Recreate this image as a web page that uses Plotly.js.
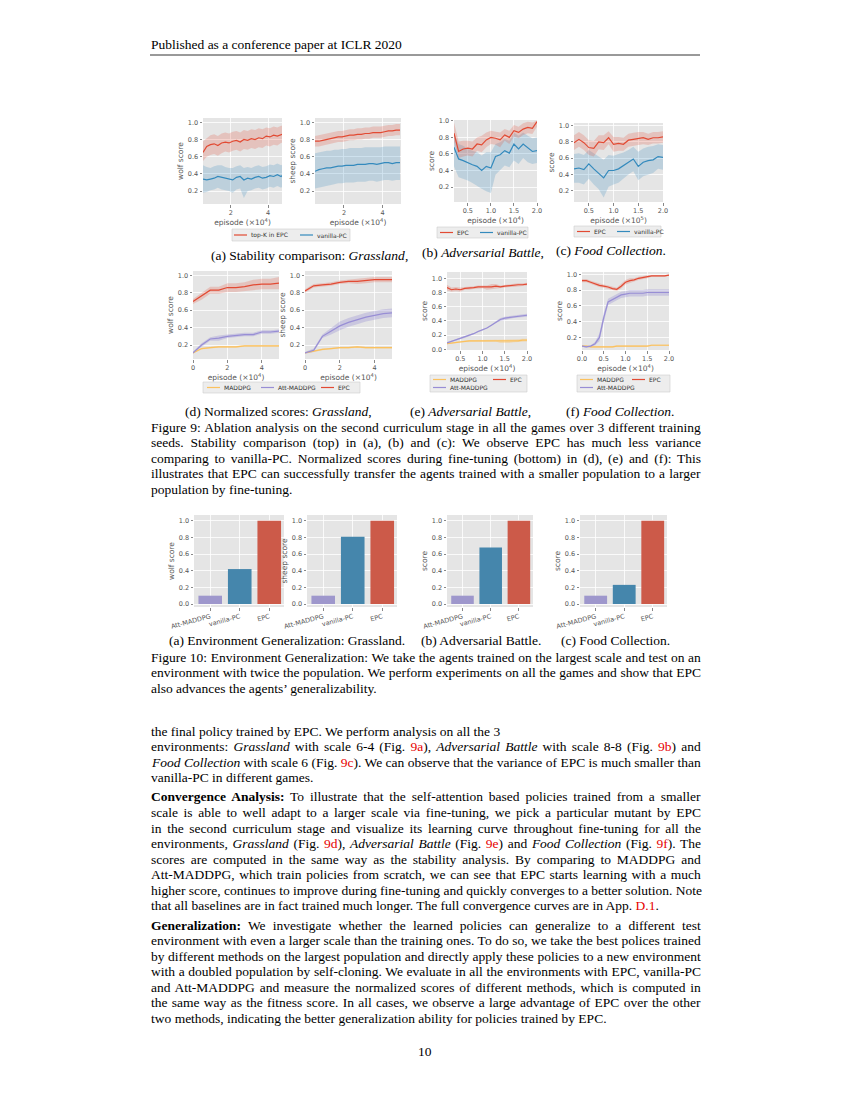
<!DOCTYPE html>
<html><head><meta charset="utf-8">
<script src="https://cdn.plot.ly/plotly-3.0.1.min.js"></script>
<style>html,body{margin:0;padding:0;background:#fff}</style>
</head><body><div id="chart" style="width:850px;height:1100px"></div>
<script>
// ---------------- DATA ----------------
// (a) Stability comparison: Grassland  (episode x10^4)
const aX = [0.5,0.7,0.9,1.1,1.3,1.5,1.7,1.9,2.1,2.3,2.5,2.7,2.9,3.1,3.3,3.5,3.7,3.9,4.1,4.3,4.5,4.7,4.9];
const wolfEPC      = [0.65,0.72,0.74,0.75,0.73,0.76,0.77,0.76,0.78,0.79,0.77,0.80,0.79,0.81,0.80,0.82,0.81,0.84,0.83,0.85,0.84,0.86,0.87];
const wolfEPCHi    = [0.78,0.82,0.85,0.86,0.84,0.87,0.88,0.87,0.89,0.90,0.88,0.91,0.90,0.92,0.91,0.93,0.92,0.94,0.93,0.95,0.94,0.96,0.96];
const wolfEPCLo    = [0.55,0.60,0.62,0.63,0.61,0.64,0.66,0.65,0.67,0.68,0.66,0.69,0.68,0.70,0.69,0.71,0.70,0.73,0.72,0.74,0.73,0.76,0.77];
const wolfVan      = [0.34,0.33,0.34,0.35,0.37,0.36,0.35,0.34,0.33,0.36,0.37,0.33,0.35,0.34,0.36,0.37,0.35,0.36,0.38,0.37,0.39,0.37,0.40];
const wolfVanHi    = [0.50,0.48,0.47,0.49,0.50,0.50,0.48,0.47,0.47,0.49,0.50,0.47,0.48,0.47,0.49,0.50,0.48,0.49,0.51,0.50,0.52,0.50,0.53];
const wolfVanLo    = [0.18,0.19,0.21,0.22,0.24,0.22,0.21,0.20,0.18,0.22,0.23,0.12,0.20,0.21,0.23,0.24,0.22,0.23,0.25,0.24,0.26,0.24,0.27];
const sheepEPC     = [0.78,0.78,0.79,0.80,0.81,0.82,0.83,0.83,0.84,0.85,0.85,0.86,0.86,0.87,0.87,0.88,0.88,0.88,0.89,0.90,0.90,0.91,0.91];
const sheepEPCHi   = [0.84,0.85,0.86,0.87,0.88,0.89,0.90,0.90,0.91,0.92,0.92,0.93,0.93,0.94,0.94,0.95,0.95,0.95,0.96,0.97,0.97,0.98,0.98];
const sheepEPCLo   = [0.72,0.72,0.73,0.74,0.75,0.76,0.77,0.77,0.78,0.79,0.79,0.80,0.80,0.81,0.81,0.82,0.82,0.82,0.83,0.84,0.84,0.85,0.85];
const sheepVan     = [0.43,0.45,0.46,0.47,0.47,0.48,0.49,0.49,0.50,0.50,0.50,0.51,0.51,0.51,0.52,0.52,0.51,0.52,0.53,0.53,0.52,0.53,0.53];
const sheepVanHi   = [0.64,0.65,0.66,0.67,0.67,0.68,0.68,0.69,0.69,0.70,0.70,0.70,0.70,0.71,0.71,0.71,0.71,0.71,0.72,0.72,0.72,0.72,0.72];
const sheepVanLo   = [0.23,0.24,0.25,0.26,0.27,0.28,0.29,0.29,0.30,0.30,0.30,0.31,0.31,0.31,0.32,0.32,0.31,0.32,0.33,0.33,0.32,0.33,0.33];

// (b) Adversarial Battle stability (episode x10^4)
const bX = [0.2,0.3,0.4,0.5,0.6,0.7,0.8,0.9,1.0,1.1,1.2,1.3,1.4,1.5,1.6,1.7,1.8,1.9,2.0];
const advEPC   = [0.85,0.63,0.66,0.67,0.66,0.72,0.71,0.77,0.80,0.79,0.77,0.83,0.80,0.88,0.86,0.90,0.92,0.91,0.99];
const advEPCHi = [0.98,0.75,0.76,0.76,0.75,0.80,0.82,0.86,0.88,0.87,0.86,0.90,0.88,0.95,0.93,0.97,0.99,0.98,1.00];
const advEPCLo = [0.75,0.55,0.57,0.58,0.57,0.64,0.62,0.68,0.72,0.71,0.68,0.76,0.72,0.81,0.79,0.83,0.85,0.84,0.93];
const advVan   = [0.68,0.54,0.52,0.49,0.47,0.45,0.40,0.45,0.43,0.57,0.59,0.64,0.61,0.72,0.66,0.72,0.67,0.63,0.64];
const advVanHi = [0.85,0.72,0.70,0.66,0.64,0.62,0.58,0.62,0.62,0.72,0.74,0.78,0.76,0.86,0.82,0.86,0.82,0.79,0.80];
const advVanLo = [0.45,0.32,0.30,0.28,0.25,0.22,0.18,0.15,0.13,0.35,0.40,0.46,0.44,0.52,0.48,0.55,0.50,0.48,0.49];

// (c) Food Collection stability
const cX = [0.2,0.3,0.4,0.5,0.6,0.7,0.8,0.9,1.0,1.1,1.2,1.3,1.4,1.5,1.6,1.7,1.8,1.9,2.0];
const foodEPC   = [0.79,0.83,0.79,0.73,0.72,0.80,0.79,0.85,0.77,0.78,0.77,0.82,0.83,0.84,0.85,0.83,0.85,0.85,0.86];
const foodEPCHi = [0.88,0.92,0.88,0.82,0.81,0.88,0.88,0.93,0.86,0.86,0.85,0.90,0.91,0.92,0.92,0.90,0.92,0.92,0.93];
const foodEPCLo = [0.70,0.74,0.70,0.64,0.62,0.71,0.70,0.77,0.68,0.69,0.69,0.74,0.75,0.76,0.77,0.76,0.78,0.78,0.79];
const foodVan   = [0.47,0.48,0.46,0.53,0.47,0.42,0.36,0.45,0.45,0.47,0.51,0.55,0.59,0.50,0.55,0.57,0.58,0.62,0.61];
const foodVanHi = [0.65,0.66,0.64,0.70,0.66,0.62,0.58,0.64,0.63,0.65,0.67,0.70,0.74,0.68,0.72,0.74,0.75,0.77,0.76];
const foodVanLo = [0.30,0.30,0.28,0.35,0.28,0.22,0.12,0.25,0.28,0.30,0.35,0.40,0.44,0.33,0.38,0.40,0.42,0.47,0.46];

// (d) Normalized scores: Grassland (episode x10^4)
const dX = [0,0.5,1.0,1.5,2.0,2.5,3.0,3.5,4.0,4.5,5.0];
const gWolfMAD    = [0.11,0.16,0.17,0.18,0.18,0.18,0.19,0.19,0.19,0.19,0.19];
const gWolfMADSd  = [0.005,0.01,0.01,0.01,0.01,0.01,0.01,0.01,0.01,0.01,0.01];
const gWolfAtt    = [0.11,0.20,0.27,0.28,0.30,0.31,0.32,0.32,0.35,0.35,0.36];
const gWolfAttSd  = [0.01,0.02,0.02,0.03,0.02,0.02,0.02,0.02,0.02,0.02,0.02];
const gWolfEPC    = [0.70,0.76,0.83,0.83,0.86,0.86,0.87,0.89,0.90,0.90,0.91];
const gWolfEPCSd  = [0.03,0.04,0.04,0.04,0.05,0.05,0.05,0.06,0.06,0.06,0.07];
const gSheepMAD   = [0.11,0.13,0.15,0.16,0.17,0.17,0.18,0.17,0.17,0.17,0.17];
const gSheepMADSd = [0.005,0.01,0.01,0.01,0.01,0.01,0.01,0.01,0.01,0.01,0.01];
const gSheepAtt   = [0.11,0.14,0.30,0.36,0.42,0.46,0.49,0.52,0.54,0.56,0.57];
const gSheepAttSd = [0.01,0.02,0.02,0.04,0.05,0.05,0.05,0.05,0.05,0.05,0.05];
const gSheepEPC   = [0.82,0.88,0.89,0.90,0.92,0.93,0.93,0.94,0.95,0.95,0.95];
const gSheepEPCSd = [0.02,0.02,0.02,0.02,0.02,0.02,0.03,0.03,0.03,0.03,0.03];

// (e) Normalized scores: Adversarial Battle
const eX = [0.2,0.3,0.4,0.5,0.6,0.7,0.8,0.9,1.0,1.1,1.2,1.3,1.4,1.5,1.6,1.7,1.8,1.9,2.0];
const aMAD    = [0.08,0.09,0.10,0.11,0.12,0.12,0.12,0.12,0.12,0.12,0.12,0.12,0.11,0.11,0.11,0.12,0.12,0.13,0.13];
const aMADSd  = [0.01,0.01,0.01,0.01,0.01,0.01,0.01,0.01,0.01,0.01,0.01,0.01,0.02,0.02,0.02,0.02,0.02,0.02,0.02];
const aAtt    = [0.09,0.11,0.13,0.15,0.17,0.20,0.22,0.25,0.27,0.30,0.34,0.38,0.42,0.44,0.45,0.46,0.47,0.48,0.48];
const aAttSd  = [0.01,0.01,0.01,0.01,0.01,0.01,0.01,0.01,0.01,0.01,0.01,0.01,0.02,0.02,0.02,0.02,0.02,0.02,0.02];
const aEPC    = [0.87,0.84,0.85,0.84,0.86,0.86,0.87,0.88,0.88,0.87,0.88,0.89,0.88,0.89,0.90,0.90,0.91,0.91,0.92];
const aEPCSd  = [0.04,0.03,0.03,0.03,0.02,0.02,0.02,0.02,0.02,0.03,0.04,0.03,0.02,0.02,0.02,0.02,0.02,0.02,0.02];

// (f) Normalized scores: Food Collection
const fX = [0,0.1,0.2,0.3,0.4,0.5,0.6,0.7,0.8,0.9,1.0,1.1,1.2,1.3,1.4,1.5,1.6,1.7,1.8,1.9,2.0];
const fMAD    = [0.09,0.09,0.08,0.08,0.08,0.08,0.08,0.08,0.09,0.09,0.09,0.09,0.09,0.09,0.09,0.09,0.10,0.10,0.10,0.10,0.10];
const fMADSd  = [0.01,0.01,0.01,0.01,0.01,0.01,0.01,0.01,0.01,0.01,0.01,0.01,0.01,0.01,0.01,0.01,0.01,0.01,0.01,0.01,0.01];
const fAtt    = [0.09,0.08,0.09,0.12,0.20,0.45,0.65,0.68,0.71,0.74,0.75,0.76,0.76,0.76,0.76,0.77,0.77,0.77,0.77,0.77,0.77];
const fAttSd  = [0.01,0.01,0.01,0.02,0.05,0.06,0.04,0.04,0.04,0.04,0.04,0.04,0.04,0.04,0.04,0.04,0.04,0.04,0.04,0.04,0.04];
const fEPC    = [0.92,0.92,0.90,0.88,0.86,0.85,0.84,0.82,0.81,0.85,0.90,0.92,0.93,0.95,0.96,0.97,0.98,0.98,0.98,0.98,0.99];
const fEPCSd  = [0.02,0.02,0.02,0.02,0.02,0.02,0.02,0.02,0.02,0.03,0.03,0.03,0.02,0.02,0.02,0.02,0.01,0.01,0.01,0.01,0.01];

// Figure 10 bars
const barCats = ['Att-MADDPG','vanilla-PC','EPC'];
const barWolf  = [0.10,0.42,1.00];
const barSheep = [0.10,0.81,1.00];
const barAdv   = [0.10,0.68,1.00];
const barFood  = [0.10,0.23,1.00];

// ---------------- STYLE / LAYOUT ----------------
const W=850,H=1100;
const fx=p=>p/W, fy=p=>1-p/H;
const RED='#E24A33', BLUE='#348ABD', PURPLE='#988ED5', ORANGE='#FBC15E';
const BAR_COLORS=['#9E97CC','#4586AC','#CC5A49'];
const GREY='#555555';
const PF='DejaVu Sans', SERIF='Liberation Serif';
const layout={width:W,height:H,margin:{l:0,r:0,t:0,b:0},paper_bgcolor:'#fff',plot_bgcolor:'#E5E5E5',
  showlegend:false,shapes:[],annotations:[],font:{family:PF,color:GREY}};
const data=[];
let n=0;
function axes(xb,yb,xr,yr,xo,yo){
  n++; const s=n===1?'':String(n);
  const base={showgrid:true,gridcolor:'#fff',gridwidth:0.8,zeroline:false,showline:false,ticks:'outside',
    ticklen:2.5,tickwidth:0.7,tickcolor:GREY,tickfont:{family:PF,size:6.5,color:GREY},fixedrange:true};
  layout['xaxis'+s]=Object.assign({},base,{domain:[fx(xb[0]),fx(xb[1])],range:xr,anchor:'y'+s},xo);
  layout['yaxis'+s]=Object.assign({},base,{domain:[fy(yb[1]),fy(yb[0])],range:yr,anchor:'x'+s},yo);
  return ['x'+s,'y'+s];
}
function ttl(t,size,st){return {text:t,font:{family:PF,size:size||7.5,color:GREY},standoff:st==null?3:st};}
function bandHL(ax,x,hi,lo,rgba){
  data.push({type:'scatter',mode:'lines',xaxis:ax[0],yaxis:ax[1],x:x.concat(x.slice().reverse()),
    y:hi.concat(lo.slice().reverse()),fill:'toself',fillcolor:rgba,line:{width:0},hoverinfo:'skip'});
}
function bandSd(ax,x,m,sd,rgba){
  bandHL(ax,x,m.map((v,i)=>v+sd[i]),m.map((v,i)=>v-sd[i]),rgba);
}
function line(ax,x,y,color){
  data.push({type:'scatter',mode:'lines',xaxis:ax[0],yaxis:ax[1],x:x,y:y,line:{color:color,width:1.2}});
}
const RB='rgba(226,74,51,0.22)', BB='rgba(52,138,189,0.22)', PB='rgba(152,142,213,0.35)', OB='rgba(251,193,94,0.35)';
const yTick02={tickvals:[0.2,0.4,0.6,0.8,1.0],tickformat:'.1f'};
const yTick00={tickvals:[0,0.2,0.4,0.6,0.8,1.0],tickformat:'.1f'};
const ep4='episode (×10<sup>4</sup>)', ep5='episode (×10<sup>5</sup>)';

// ---- Row 1 ----
let ax=axes([203,282],[118,204],[0.5,4.75],[0.05,1.05],{tickvals:[2,4],title:ttl(ep4)},Object.assign({title:ttl('wolf score')},yTick02));
bandHL(ax,aX,wolfVanHi,wolfVanLo,BB); bandHL(ax,aX,wolfEPCHi,wolfEPCLo,RB);
line(ax,aX,wolfVan,BLUE); line(ax,aX,wolfEPC,RED);
ax=axes([315,401],[118,204],[0.5,4.95],[0.05,1.05],{tickvals:[2,4],title:ttl(ep4)},Object.assign({title:ttl('sheep score')},yTick02));
bandHL(ax,aX,sheepVanHi,sheepVanLo,BB); bandHL(ax,aX,sheepEPCHi,sheepEPCLo,RB);
line(ax,aX,sheepVan,BLUE); line(ax,aX,sheepEPC,RED);
ax=axes([454,537],[120,202],[0.2,2.0],[0.02,1.01],{tickvals:[0.5,1,1.5,2],tickformat:'.1f',title:ttl(ep4)},Object.assign({title:ttl('score')},yTick02));
bandHL(ax,bX,advVanHi,advVanLo,BB); bandHL(ax,bX,advEPCHi,advEPCLo,RB);
line(ax,bX,advVan,BLUE); line(ax,bX,advEPC,RED);
ax=axes([574,663],[123,202],[0.2,2.0],[0.065,1.03],{tickvals:[0.5,1,1.5,2],tickformat:'.1f',title:ttl(ep5)},Object.assign({title:ttl('score')},yTick02));
bandHL(ax,cX,foodVanHi,foodVanLo,BB); bandHL(ax,cX,foodEPCHi,foodEPCLo,RB);
line(ax,cX,foodVan,BLUE); line(ax,cX,foodEPC,RED);

// ---- Row 2 ----
function three(ax,x,m1,s1,m2,s2,m3,s3){
  bandSd(ax,x,m1,s1,OB); bandSd(ax,x,m2,s2,PB); bandSd(ax,x,m3,s3,RB);
  line(ax,x,m1,ORANGE); line(ax,x,m2,PURPLE); line(ax,x,m3,RED);
}
ax=axes([193,279],[271,359],[0,5],[0.04,1.05],{tickvals:[0,2,4],title:ttl(ep4)},Object.assign({title:ttl('wolf score')},yTick02));
three(ax,dX,gWolfMAD,gWolfMADSd,gWolfAtt,gWolfAttSd,gWolfEPC,gWolfEPCSd);
ax=axes([305,392],[271,359],[0,5],[0.04,1.05],{tickvals:[0,2,4],title:ttl(ep4)},Object.assign({title:ttl('sheep score')},yTick02));
three(ax,dX,gSheepMAD,gSheepMADSd,gSheepAtt,gSheepAttSd,gSheepEPC,gSheepEPCSd);
ax=axes([447,527],[272,350],[0.2,2.0],[-0.01,1.09],{tickvals:[0.5,1,1.5,2],tickformat:'.1f',title:ttl(ep4)},Object.assign({title:ttl('score')},yTick00));
three(ax,eX,aMAD,aMADSd,aAtt,aAttSd,aEPC,aEPCSd);
ax=axes([582,669],[272,350],[0,2.0],[0.04,1.03],{tickvals:[0,0.5,1,1.5,2],tickformat:'.1f',title:ttl(ep4)},Object.assign({title:ttl('score')},yTick02));
three(ax,fX,fMAD,fMADSd,fAtt,fAttSd,fEPC,fEPCSd);

// ---- Row 3: bars ----
function bars(xb,vals,ytitle){
  const a=axes(xb,[515,607],[-0.55,2.5],[-0.036,1.07],{type:'category',tickangle:-15,tickfont:{family:PF,size:6.5,color:GREY}},
    Object.assign({title:ttl(ytitle)},yTick00));
  data.push({type:'bar',xaxis:a[0],yaxis:a[1],x:barCats,y:vals,width:0.8,marker:{color:BAR_COLORS,line:{width:0}}});
}
bars([194,284],barWolf,'wolf score');
bars([307,397],barSheep,'sheep score');
bars([447,533],barAdv,'score');
bars([580,667],barFood,'score');

// ---- Manual legends ----
function legend(box,items){
  layout.shapes.push({type:'rect',xref:'paper',yref:'paper',x0:fx(box[0]),x1:fx(box[1]),y0:fy(box[3]),y1:fy(box[2]),
    fillcolor:'#EDEDED',line:{color:'#CCCCCC',width:0.6}});
  items.forEach(it=>{
    layout.shapes.push({type:'line',xref:'paper',yref:'paper',x0:fx(it[0]),x1:fx(it[0]+13),y0:fy(it[1]),y1:fy(it[1]),line:{color:it[2],width:1.2}});
    layout.annotations.push({xref:'paper',yref:'paper',x:fx(it[0]+15),y:fy(it[1]),xanchor:'left',yanchor:'middle',showarrow:false,
      text:it[3],font:{family:PF,size:6,color:'#333'}});
  });
}
legend([232,350,229,241],[[234,235,RED,'top-K in EPC'],[300,235,BLUE,'vanilla-PC']]);
legend([437,528,227,238],[[440,232.5,RED,'EPC'],[480,232.5,BLUE,'vanilla-PC']]);
legend([574,661,226,237],[[577,231.5,RED,'EPC'],[617,231.5,BLUE,'vanilla-PC']]);
legend([203,360,382,393],[[207,387.5,ORANGE,'MADDPG'],[261,387.5,PURPLE,'Att-MADDPG'],[321,387.5,RED,'EPC']]);
legend([430,527,375,392],[[433,379.5,ORANGE,'MADDPG'],[433,387.5,PURPLE,'Att-MADDPG'],[493,379.5,RED,'EPC']]);
legend([577,670,375,392],[[580,379.5,ORANGE,'MADDPG'],[580,387.5,PURPLE,'Att-MADDPG'],[632,379.5,RED,'EPC']]);

// ---- Text ----
const justify=[];
function txt(x,y,t,anchor,size,just){
  layout.annotations.push({xref:'paper',yref:'paper',x:fx(x),y:fy(y),xanchor:anchor||'left',yanchor:'middle',align:'left',
    showarrow:false,text:t,font:{family:SERIF,size:size||13.5,color:'#000'},borderpad:0});
  if(just) justify.push(layout.annotations.length-1);
}
const R=s=>'<span style="color:#e60000">'+s+'</span>';
layout.shapes.push({type:'line',xref:'paper',yref:'paper',x0:fx(150),x1:fx(700),y0:fy(55),y1:fy(55),line:{color:'#000',width:0.8}});
txt(150,45,'Published as a conference paper at ICLR 2020');
txt(309,256,'(a) Stability comparison: <i>Grassland</i>,','center');
txt(483,253,'(b) <i>Adversarial Battle</i>,','center');
txt(611,251,'(c) <i>Food Collection</i>.','center');
txt(278,411,'(d) Normalized scores: <i>Grassland</i>,','center');
txt(471,411,'(e) <i>Adversarial Battle</i>,','center');
txt(620,411,'(f) <i>Food Collection</i>.','center');
txt(287,640,'(a) Environment Generalization: Grassland.','center');
txt(481,640,'(b) Adversarial Battle.','center');
txt(615,640,'(c) Food Collection.','center');

const cap9=['Figure 9: Ablation analysis on the second curriculum stage in all the games over 3 different training',
 'seeds. Stability comparison (top) in (a), (b) and (c): We observe EPC has much less variance',
 'comparing to vanilla-PC. Normalized scores during fine-tuning (bottom) in (d), (e) and (f): This',
 'illustrates that EPC can successfully transfer the agents trained with a smaller population to a larger',
 'population by fine-tuning.'];
cap9.forEach((t,i)=>txt(150,427+i*15.5,t,'left',13.5,i<4));
const cap10=['Figure 10: Environment Generalization: We take the agents trained on the largest scale and test on an',
 'environment with twice the population. We perform experiments on all the games and show that EPC',
 'also advances the agents’ generalizability.'];
cap10.forEach((t,i)=>txt(150,657+i*15.5,t,'left',13.5,i<2));

const body=[
 ['the final policy trained by EPC. We perform analysis on all the 3',731,false],
 ['environments: <i>Grassland</i> with scale 6-4 (Fig. '+R('9a')+'), <i>Adversarial Battle</i> with scale 8-8 (Fig. '+R('9b')+') and',746.5,true],
 ['<i>Food Collection</i> with scale 6 (Fig. '+R('9c')+'). We can observe that the variance of EPC is much smaller than',762,true],
 ['vanilla-PC in different games.',777.5,false],
 ['<b>Convergence Analysis:</b> To illustrate that the self-attention based policies trained from a smaller',797,true],
 ['scale is able to well adapt to a larger scale via fine-tuning, we pick a particular mutant by EPC',812.5,true],
 ['in the second curriculum stage and visualize its learning curve throughout fine-tuning for all the',828,true],
 ['environments, <i>Grassland</i> (Fig. '+R('9d')+'), <i>Adversarial Battle</i> (Fig. '+R('9e')+') and <i>Food Collection</i> (Fig. '+R('9f')+'). The',843.5,true],
 ['scores are computed in the same way as the stability analysis. By comparing to MADDPG and',859,true],
 ['Att-MADDPG, which train policies from scratch, we can see that EPC starts learning with a much',874.5,true],
 ['higher score, continues to improve during fine-tuning and quickly converges to a better solution. Note',890,true],
 ['that all baselines are in fact trained much longer. The full convergence curves are in App. '+R('D.1')+'.',905.5,false],
 ['<b>Generalization:</b> We investigate whether the learned policies can generalize to a different test',925,true],
 ['environment with even a larger scale than the training ones. To do so, we take the best polices trained',940.5,true],
 ['by different methods on the largest population and directly apply these policies to a new environment',956,true],
 ['with a doubled population by self-cloning. We evaluate in all the environments with EPC, vanilla-PC',971.5,true],
 ['and Att-MADDPG and measure the normalized scores of different methods, which is computed in',987,true],
 ['the same way as the fitness score. In all cases, we observe a large advantage of EPC over the other',1002.5,true],
 ['two methods, indicating the better generalization ability for policies trained by EPC.',1018,false]
];
body.forEach(b=>txt(150,b[1],b[0],'left',13.5,b[2]));
txt(425,1051,'10','center');

Plotly.newPlot('chart',data,layout,{staticPlot:true}).then(gd=>{
  const TW=550;
  justify.forEach(i=>{
    const t=gd.querySelector('.annotation[data-index="'+i+'"] text.annotation-text');
    if(!t) return;
    const w=t.getBBox().width;
    const sp=(t.textContent.match(/ /g)||[]).length;
    if(sp>0 && w<TW) t.style.wordSpacing=((TW-w)/sp)+'px';
  });
});
</script></body></html>
